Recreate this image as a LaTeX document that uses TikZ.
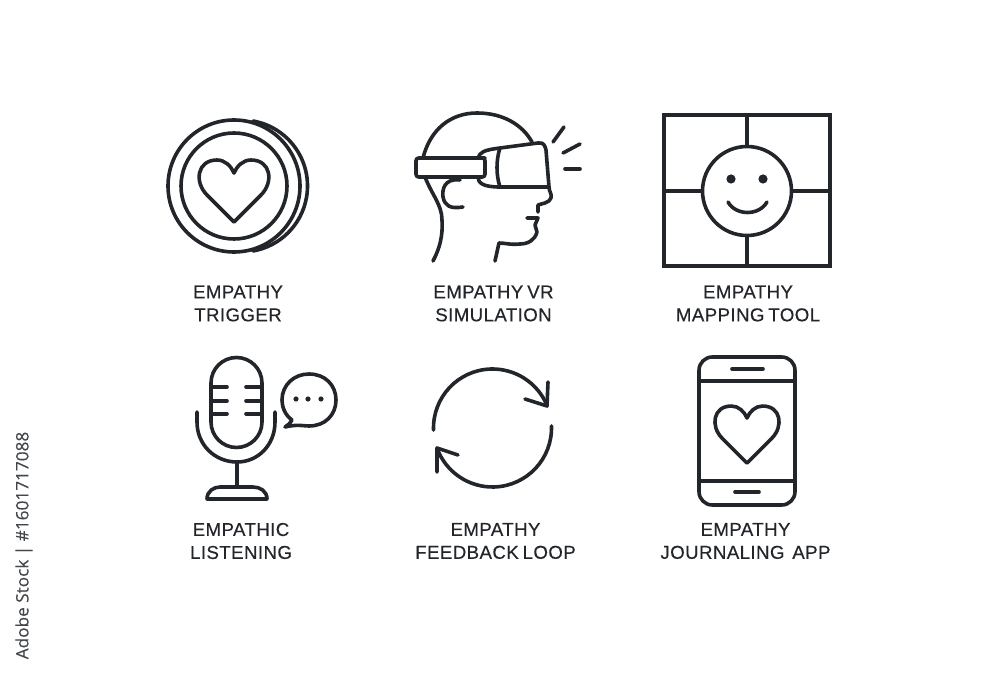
\documentclass[tikz,border=0pt]{standalone}
\usepackage{fontspec}
\setmainfont{Open Sans}
\newfontfamily\labelfont[LetterSpace=2.2,FakeBold=0.4,WordSpace=0.7]{Liberation Sans}
\newfontfamily\markfont[FakeBold=0.2]{Open Sans}
\definecolor{ink}{HTML}{22262B}
\tikzset{
  icon/.style={draw=ink,line width=2.7pt,line cap=round,line join=round,fill=none},
  dot/.style={fill=ink,draw=none},
  caption/.style={text=ink,align=center,inner sep=0pt,font=\labelfont\fontsize{14}{17.2}\selectfont},
  heart/.pic={
    \draw[icon] (0,49) -- (-27,22) .. controls (-40,9) and (-37,-13) .. (-17,-13)
      .. controls (-9,-13) and (-3,-7) .. (0,0)
      .. controls (3,-7) and (9,-13) .. (17,-13)
      .. controls (37,-13) and (40,9) .. (27,22) -- cycle;
  }
}
\begin{document}
\begin{tikzpicture}[x=0.75pt,y=-0.75pt]
\useasboundingbox (0,0) rectangle (1000,673);
% coin
\draw[icon] (234,186) circle [radius=66];
\draw[icon] (234,186) circle [radius=53];
\draw[icon] (241.5,186) ++(-80:66) arc [start angle=-80,end angle=80,radius=66];
\pic at (234,173) {heart};
% VR head
\draw[icon] (423,158) .. controls (430,130) and (450,113) .. (477,113) .. controls (502,113) and (522,124) .. (532,142);
\draw[icon,rounded corners=2pt] (416,158) rectangle (485,177);
\draw[icon] (485,158) -- (478,158) .. controls (480,152) and (484,150) .. (500,148) -- (538,143) .. controls (544,142) and (545,146) .. (546,150) -- (549,187);
\draw[icon] (500,148) .. controls (496,160) and (496,175) .. (500,187) -- (549,187);
\draw[icon] (478,177) .. controls (478,183) and (483,187) .. (500,187);
\draw[icon] (425,177) .. controls (432,195) and (442,205) .. (442,220) .. controls (443,235) and (440,248) .. (433,261);
\draw[icon] (460,180) .. controls (444,178) and (442,190) .. (443,197) .. controls (445,206) and (450,209) .. (463,207);
\draw[icon] (549,187) .. controls (549,192) and (552,193) .. (551,198) .. controls (550,203) and (540,204) .. (538,205) -- (538,212);
\draw[icon] (527,218) -- (538,218) -- (535,225) -- (537,232) .. controls (535,240) and (528,244) .. (520,244) .. controls (510,245) and (505,243) .. (499,243) -- (495,261);
\draw[icon] (553,142) -- (564,127);
\draw[icon] (563,153) -- (580,144);
\draw[icon] (565,169) -- (580,169);
% grid
\draw[icon,line cap=butt,line join=miter] (664,115) rectangle (830,266);
\draw[icon,line cap=butt] (747,115) -- (747,146.5);
\draw[icon,line cap=butt] (747,235.5) -- (747,266);
\draw[icon,line cap=butt] (664,191) -- (702.5,191);
\draw[icon,line cap=butt] (791.5,191) -- (830,191);
\draw[icon] (747,191) circle [radius=44.5];
\fill[dot] (731,179) circle [radius=4.6];
\fill[dot] (763,179) circle [radius=4.6];
\draw[icon] (728,202) .. controls (736,216) and (759,216) .. (767,202);
% mic
\draw[icon] (211,383) arc [start angle=180,end angle=360,radius=25.5] -- (262,422) arc [start angle=0,end angle=180,radius=25.5] -- cycle;
\foreach \yy in {387,401,414}{
  \draw[icon] (211,\yy) -- (227,\yy);
  \draw[icon] (246,\yy) -- (262,\yy);
}
\draw[icon] (197,412) -- (197,422) .. controls (197,445) and (215,462) .. (237,462) .. controls (258,462) and (275,445) .. (275,422) -- (275,412);
\draw[icon] (237,462) -- (237,487);
\draw[icon] (207,499) .. controls (207,491) and (214,487) .. (220,487) -- (253,487) .. controls (260,487) and (267,491) .. (267,499) -- cycle;
\draw[icon] (292,420) .. controls (285,415) and (282,407) .. (282,400) .. controls (282,385) and (294,374) .. (309,374) .. controls (325,374) and (336,385) .. (336,400) .. controls (336,415) and (325,426) .. (309,426) .. controls (303,426) and (298,424) .. (285,427) .. controls (288,425) and (291,423) .. (292,420) -- cycle;
\fill[dot] (296,399) circle [radius=2.6];
\fill[dot] (308,399) circle [radius=2.6];
\fill[dot] (321,399) circle [radius=2.6];
% loop
\draw[icon] (492.5,428) ++(178:59) arc [start angle=178,end angle=338,radius=59];
\draw[icon] (492.5,428) ++(-2:59) arc [start angle=-2,end angle=160,radius=59];
\draw[icon] (548,382) -- (547,406) -- (525,399);
\draw[icon] (437,472) -- (437,448) -- (458,455);
% phone
\draw[icon,rounded corners=10pt] (699,357) rectangle (795,505);
\draw[icon,line cap=butt] (699,381) -- (795,381);
\draw[icon,line cap=butt] (699,481) -- (795,481);
\draw[icon] (732,369) -- (763,369);
\draw[icon] (735,492) -- (759,492);
\pic[scale=0.92] at (747,418) {heart};
% captions
\node[caption] (c1) at (238,303.5) {EMPATHY\\TRIGGER};
\node[caption] (c2) at (493.5,303.5) {EMPATHY VR\\SIMULATION};
\node[caption] (c3) at (748,303.5) {EMPATHY\\MAPPING TOOL};
\node[caption] (c4) at (241,541) {EMPATHIC\\LISTENING};
\node[caption] (c5) at (495.5,541) {EMPATHY\\FEEDBACK LOOP};
\node[caption] (c6) at (745.5,541) {EMPATHY\\JOURNALING\ \ APP};
\node[rotate=90,text=ink!85,inner sep=0pt,font=\markfont\fontsize{12.9}{16}\selectfont] (wm) at (24,545.5) {Adobe Stock | \#1601717088};
\end{tikzpicture}
\end{document}
